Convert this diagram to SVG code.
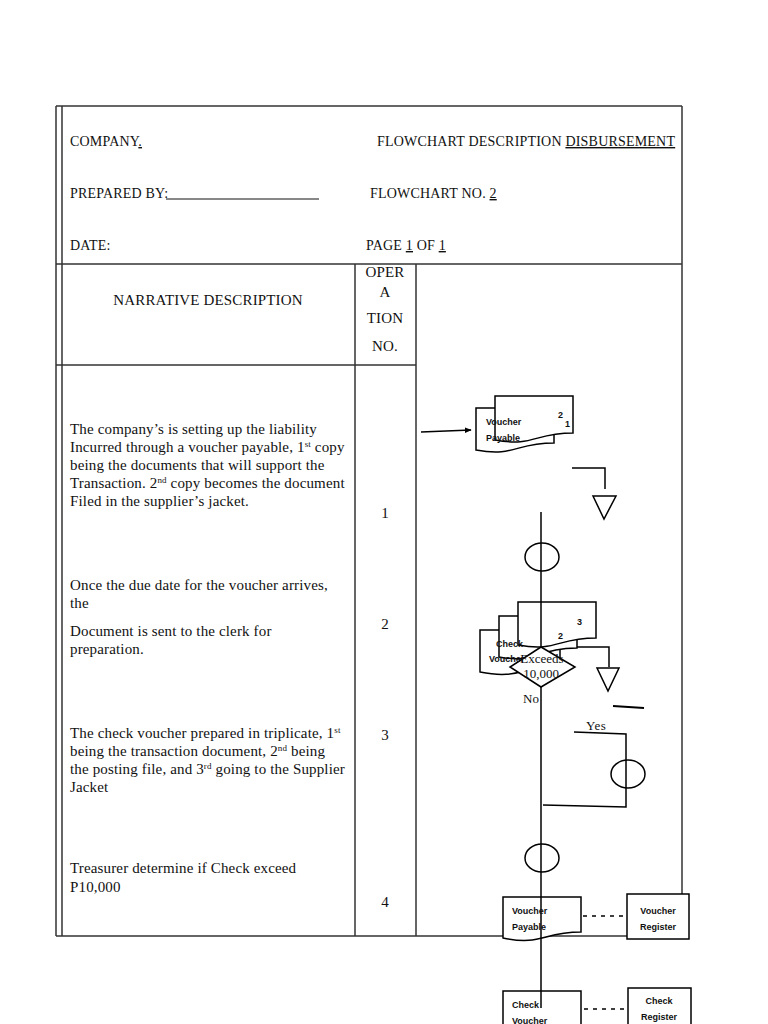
<svg xmlns="http://www.w3.org/2000/svg" width="768" height="1024" viewBox="0 0 768 1024">
<defs>
<style>
.tbl{stroke:#333;stroke-width:1.5;fill:none}
.ln{stroke:#000;stroke-width:1.5;fill:none}
.shp{stroke:#000;stroke-width:1.5;fill:#fff}
.t{font-family:"Liberation Serif","Times New Roman",serif;font-size:15px;letter-spacing:0.15px;fill:#111}
.h{font-family:"Liberation Serif","Times New Roman",serif;font-size:14px;letter-spacing:0.2px;fill:#111}
.s{font-family:"Liberation Serif","Times New Roman",serif;font-size:13px;fill:#111}
.b{font-family:"Liberation Sans",Arial,sans-serif;font-size:9px;font-weight:bold;fill:#111}
.c{text-anchor:middle}
.u{text-decoration:underline}
.dash{stroke:#000;stroke-width:1.3;stroke-dasharray:4 5}
</style>
<marker id="ah" viewBox="0 0 10 10" refX="9" refY="5" markerWidth="7" markerHeight="7" orient="auto" markerUnits="userSpaceOnUse">
<path d="M0,1 L10,5 L0,9 z" fill="#000"/>
</marker>
</defs>
<rect width="768" height="1024" fill="#fff"/>

<g id="table">
<line class="tbl" x1="56" y1="106" x2="682" y2="106"/>
<line class="tbl" x1="56" y1="106" x2="56" y2="936"/>
<line class="tbl" x1="62" y1="106" x2="62" y2="936"/>
<line class="tbl" x1="682" y1="106" x2="682" y2="936"/>
<line class="tbl" x1="56" y1="264" x2="682" y2="264"/>
<line class="tbl" x1="56" y1="365" x2="416" y2="365"/>
<line class="tbl" x1="355" y1="264" x2="355" y2="936"/>
<line class="tbl" x1="416" y1="264" x2="416" y2="936"/>
<line class="tbl" x1="56" y1="936" x2="682" y2="936"/>
</g>

<g id="header">
<text class="h" x="70" y="146">COMPANY<tspan class="u">.</tspan></text>
<text class="h" x="377" y="146">FLOWCHART DESCRIPTION <tspan class="u">DISBURSEMENT</tspan></text>
<text class="h" x="70" y="198">PREPARED BY:</text>
<line x1="166" y1="199" x2="319" y2="199" stroke="#111" stroke-width="1"/>
<text class="h" x="370" y="198">FLOWCHART NO. <tspan class="u">2</tspan></text>
<text class="h" x="70" y="250">DATE:</text>
<text class="h" x="366" y="250">PAGE <tspan class="u">1</tspan> OF <tspan class="u">1</tspan></text>
<text class="t c" x="208" y="305" letter-spacing="0.3">NARRATIVE DESCRIPTION</text>
<text class="t c" x="385" y="277">OPER</text>
<text class="t c" x="385" y="297">A</text>
<text class="t c" x="385" y="323">TION</text>
<text class="t c" x="385" y="351">NO.</text>
</g>

<g id="narrative">
<text class="t" x="70" y="434">The company’s is setting up the liability</text>
<text class="t" x="70" y="452">Incurred through a voucher payable, 1<tspan font-size="9" dy="-5">st</tspan><tspan dy="5"> copy</tspan></text>
<text class="t" x="70" y="470">being the documents that will support the</text>
<text class="t" x="70" y="488">Transaction. 2<tspan font-size="9" dy="-5">nd</tspan><tspan dy="5"> copy becomes the document</tspan></text>
<text class="t" x="70" y="506">Filed in the supplier’s jacket.</text>

<text class="t" x="70" y="590">Once the due date for the voucher arrives,</text>
<text class="t" x="70" y="608">the</text>
<text class="t" x="70" y="636">Document is sent to the clerk for</text>
<text class="t" x="70" y="654">preparation.</text>

<text class="t" x="70" y="738">The check voucher prepared in triplicate, 1<tspan font-size="9" dy="-5">st</tspan></text>
<text class="t" x="70" y="756">being the transaction document, 2<tspan font-size="9" dy="-5">nd</tspan><tspan dy="5"> being</tspan></text>
<text class="t" x="70" y="774">the posting file, and 3<tspan font-size="9" dy="-5">rd</tspan><tspan dy="5"> going to the Supplier</tspan></text>
<text class="t" x="70" y="792">Jacket</text>

<text class="t" x="70" y="873">Treasurer determine if Check exceed</text>
<text class="t" x="70" y="892">P10,000</text>

<text class="t c" x="385" y="518">1</text>
<text class="t c" x="385" y="629">2</text>
<text class="t c" x="385" y="740">3</text>
<text class="t c" x="385" y="907">4</text>
</g>

<g id="voucher-payable-1">
<path class="shp" d="M476,408 H554 V443 C515,443 515,457 476,450 Z"/>
<path class="shp" d="M495,396 H573 V433 C534,433 534,447 495,440 Z"/>
<text class="b" x="486" y="425">Voucher</text>
<text class="b" x="486" y="441">Payable</text>
<text class="b" x="558" y="418">2</text>
<text class="b" x="565" y="427">1</text>
</g>

<g id="merge-1">
<polygon class="shp" points="593,496 616,496 604,519"/>
</g>

<g id="check-voucher">
<path class="shp" d="M480,630 H560 V666 C520,666 520,680 480,672 Z"/>
<path class="shp" d="M499,616 H577 V648 C538,648 538,664 499,657 Z"/>
<path class="shp" d="M518,602 H596 V638 C557,638 557,652 518,645 Z"/>
</g>

<g id="merge-2">
<polygon class="shp" points="597,668 619,668 608,691"/>
</g>

<g id="decision">
<polygon class="shp" points="541,647 575,667 541,687 510,667"/>
</g>

<g id="connector-yes">
<ellipse class="shp" cx="628" cy="774" rx="17" ry="14"/>
</g>

<g id="connector-1">
<ellipse class="shp" cx="542" cy="557" rx="17" ry="14"/>
</g>

<g id="connector-2">
<ellipse class="shp" cx="542" cy="858" rx="17" ry="14"/>
</g>

<g id="voucher-payable-2">
<path class="shp" d="M503,897 H581 V932 C542,932 542,946 503,938 Z"/>
</g>

<g id="voucher-register">
<rect class="shp" x="627" y="894" width="62" height="45"/>
</g>

<g id="check-voucher-2">
<path class="shp" d="M503,991 H581 V1026 C542,1026 542,1040 503,1032 Z"/>
</g>

<g id="check-register">
<rect class="shp" x="628" y="988" width="63" height="50"/>
</g>

<g id="connectors">
<line class="ln" x1="421" y1="432" x2="471" y2="430" marker-end="url(#ah)"/>
<polyline class="ln" points="572,468 605,468 605,489"/>
<line class="ln" x1="541" y1="512" x2="541" y2="647"/>
<polyline class="ln" points="577,647 609,647 609,667"/>
<line class="ln" x1="541" y1="687" x2="541" y2="1008"/>
<line x1="613" y1="706" x2="644" y2="708" stroke="#000" stroke-width="2"/>
<polyline class="ln" points="574,732 626,734 626,807 543,805"/>
<line class="dash" x1="583" y1="916" x2="625" y2="916"/>
<line class="dash" x1="584" y1="1009" x2="626" y2="1009"/>
</g>

<g id="labels">
<text class="b" x="496" y="647">Check</text>
<text class="b" x="489" y="662">Voucher</text>
<text class="b" x="577" y="625">3</text>
<text class="b" x="558" y="639">2</text>
<text class="s c" x="542" y="663">Exceeds</text>
<text class="s c" x="541" y="678">10,000</text>
<text class="s" x="523" y="703">No</text>
<text class="s" x="586" y="730" letter-spacing="0.5">Yes</text>
<text class="b" x="512" y="914">Voucher</text>
<text class="b" x="512" y="930">Payable</text>
<text class="b c" x="658" y="914">Voucher</text>
<text class="b c" x="658" y="930">Register</text>
<text class="b" x="512" y="1008">Check</text>
<text class="b" x="512" y="1024">Voucher</text>
<text class="b c" x="659" y="1004">Check</text>
<text class="b c" x="659" y="1020">Register</text>
</g>
</svg>
